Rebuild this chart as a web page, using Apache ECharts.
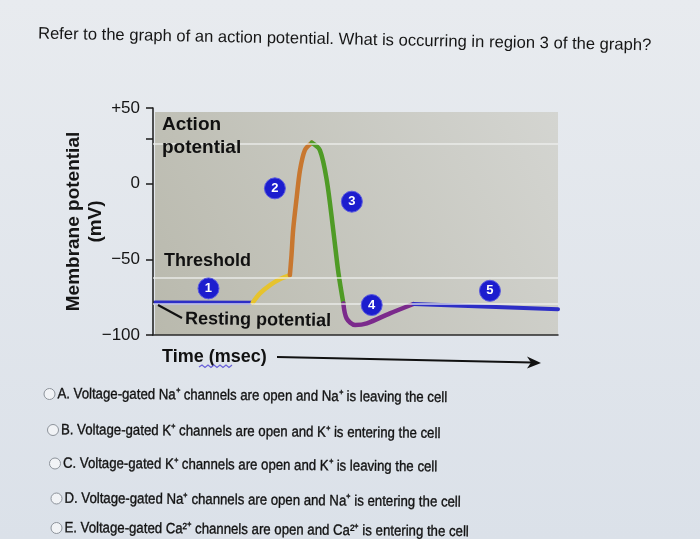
<!DOCTYPE html>
<html>
<head>
<meta charset="utf-8">
<script src="https://cdn.jsdelivr.net/npm/echarts@6/dist/echarts.min.js"></script>
<style>
html,body{margin:0;padding:0;background:#e3e7ed;}
#chart{width:700px;height:539px;}
</style>
</head>
<body>
<div id="chart"></div>
<script>
// ---------- text content ----------
const questionText = "Refer to the graph of an action potential. What is occurring in region 3 of the graph?";
const answerOptions = [
  "A. Voltage-gated Na\u207A channels are open and Na\u207A is leaving the cell",
  "B. Voltage-gated K\u207A channels are open and K\u207A is entering the cell",
  "C. Voltage-gated K\u207A channels are open and K\u207A is leaving the cell",
  "D. Voltage-gated Na\u207A channels are open and Na\u207A is entering the cell",
  "E. Voltage-gated Ca\u00B2\u207A channels are open and Ca\u00B2\u207A is entering the cell"
];
const yAxisTitle = "Membrane potential\n(mV)";
const xAxisTitle = "Time (msec)";

// ---------- axis ticks (mV) ----------
const yTickValues = [-100, -50, 0, 30, 50];
const yLabelValues = [-100, -50, 0, 50];

// ---------- trace segments [time (a.u.), mV] ----------
const restingStart = [[0.5, -78.5], [24.6, -78.7]];
const depolToThreshold = [[24.6, -78.7], [26.4, -72.5], [28.9, -67.0], [31.4, -63.0], [33.8, -60.4]];
const risingPhase = [[33.8, -60.4], [34.2, -47.2], [34.6, -30.6], [35.5, -8.6], [36.3, 9.0], [37.5, 22.2], [39.2, 27.1]];
const fallingPhase = [[39.2, 27.1], [41.2, 22.2], [42.9, 2.4], [44.5, -30.6], [45.8, -59.3], [47.0, -79.1]];
const hyperpolarization = [[47.0, -79.1], [47.8, -89.0], [49.9, -93.4], [52.8, -92.3], [58.5, -85.7], [64.3, -79.5]];
const restingEnd = [[64.3, -79.5], [100, -83]];

// ---------- numbered region markers [time, mV, label] ----------
const regionLabels = [[13.7, -69.2, '1'], [30.1, -3.1, '2'], [49.1, -11.9, '3'], [54.0, -80.2, '4'], [83.2, -70.8, '5']];

// ---------- reference levels (mV) and plot panel extent ----------
const referenceLevels = [26.5, -62, -79.5];
const panelTime = [0.5, 100];
const panelVolt = [-100, 47.4];

const FONT = '"Liberation Sans", Arial, Helvetica, sans-serif';
const chart = echarts.init(document.getElementById('chart'));

function seg(name, data, color, width) {
  return {
    name: name, type: 'line', data: data, smooth: 0.3, showSymbol: false, symbol: 'none',
    z: 3, silent: true,
    lineStyle: { color: color, width: width, cap: 'round', join: 'round' }
  };
}

const graphics = [];
// question
graphics.push({
  type: 'text', x: 38, y: 34, rotation: -0.019, z: 10,
  style: { text: questionText, font: '16.6px ' + FONT, fill: '#151515', textVerticalAlign: 'middle' }
});
// answers
const radioX = [49.5, 53, 55, 56.5, 56.5];
const ansX = [57.5, 61, 63, 64.5, 64.5];
const ansY = [394, 430, 463.5, 498.5, 528];
answerOptions.forEach(function (t, i) {
  graphics.push({
    type: 'circle', shape: { cx: radioX[i], cy: ansY[i], r: 5.5 }, z: 10,
    style: { fill: '#f1f3f6', stroke: '#8d939b', lineWidth: 1 }
  });
  graphics.push({
    type: 'text', x: ansX[i], y: ansY[i], rotation: -0.01, scaleX: 0.88, z: 10,
    style: { text: t, font: '15px ' + FONT, fill: '#111', stroke: '#111', lineWidth: 0.35, textVerticalAlign: 'middle' }
  });
});
// in-chart annotations
graphics.push({
  type: 'text', x: 162, y: 136.5, z: 10,
  style: { text: 'Action\npotential', font: 'bold 19px ' + FONT, lineHeight: 23, fill: '#111', textVerticalAlign: 'middle' }
});
graphics.push({
  type: 'text', x: 164, y: 261, z: 10,
  style: { text: 'Threshold', font: 'bold 18px ' + FONT, fill: '#111', textVerticalAlign: 'middle' }
});
graphics.push({
  type: 'text', x: 185, y: 319, rotation: -0.015, z: 10,
  style: { text: 'Resting potential', font: 'bold 18px ' + FONT, fill: '#111', textVerticalAlign: 'middle' }
});
graphics.push({
  type: 'line', shape: { x1: 158, y1: 305, x2: 182, y2: 318 }, z: 10,
  style: { stroke: '#111', lineWidth: 2 }
});
// time label and arrow
graphics.push({
  type: 'text', x: 162, y: 357, z: 10,
  style: { text: xAxisTitle, font: 'bold 18px ' + FONT, fill: '#111', textVerticalAlign: 'middle' }
});
graphics.push({
  type: 'polyline', z: 10,
  shape: { points: [[199, 367], [202, 365], [205, 367.5], [208, 365], [211, 367.5], [214, 365], [217, 367.5], [220, 365], [223, 367.5], [226, 365], [229, 367.5], [232, 365]] },
  style: { stroke: '#6a62d8', lineWidth: 1.2, fill: null }
});
graphics.push({
  type: 'line', shape: { x1: 277, y1: 357, x2: 532, y2: 362.5 }, z: 10,
  style: { stroke: '#111', lineWidth: 2 }
});
graphics.push({
  type: 'polygon', shape: { points: [[527, 356.5], [541, 363], [527, 368.5], [531, 362.5]] }, z: 10,
  style: { fill: '#111' }
});

const option = {
  animation: false,
  backgroundColor: new echarts.graphic.LinearGradient(0, 0, 0, 1, [
    { offset: 0, color: '#e8ebef' }, { offset: 1, color: '#dbe1e9' }
  ]),
  grid: { left: 153, right: 142, top: 108, bottom: 204 },
  xAxis: {
    type: 'value', min: 0, max: 100, z: 4,
    axisLine: { show: true, onZero: false, lineStyle: { color: '#2a2a2a', width: 1.5 } },
    axisTick: { show: false }, axisLabel: { show: false }, splitLine: { show: false }
  },
  yAxis: {
    type: 'value', min: -100, max: 50, interval: 50, z: 4,
    name: yAxisTitle, nameLocation: 'middle', nameGap: 46, nameRotate: 90, nameMoveOverlap: false,
    nameTextStyle: { fontFamily: FONT, fontSize: 19, fontWeight: 'bold', color: '#151515', lineHeight: 22 },
    axisLine: { show: true, onZero: false, lineStyle: { color: '#1a1a1a', width: 1.5 } },
    axisTick: { show: true, inside: false, length: 7, customValues: yTickValues, lineStyle: { color: '#1a1a1a', width: 1.5 } },
    axisLabel: {
      show: true, margin: 13, customValues: yLabelValues,
      fontFamily: FONT, fontSize: 17, color: '#151515',
      formatter: function (v) { return v > 0 ? '+' + v : (v < 0 ? '\u2212' + Math.abs(v) : '0'); }
    },
    splitLine: { show: false }
  },
  graphic: { elements: graphics },
  series: [
    {
      name: 'panel', type: 'scatter', data: [], z: 1, silent: true,
      markArea: {
        silent: true,
        itemStyle: {
          color: new echarts.graphic.LinearGradient(0, 1, 1, 0, [
            { offset: 0, color: '#b9b9ad' }, { offset: 1, color: '#d4d5d1' }
          ])
        },
        data: [[{ coord: [panelTime[0], panelVolt[0]] }, { coord: [panelTime[1], panelVolt[1]] }]]
      },
      markLine: {
        silent: true, symbol: ['none', 'none'], label: { show: false },
        lineStyle: { color: '#eef0ee', width: 1.5, type: 'solid', opacity: 0.85 },
        data: referenceLevels.map(function (v) { return { yAxis: v }; })
      }
    },
    seg('Resting (1)', restingStart, '#2d2ec6', 4),
    seg('Depolarization to threshold', depolToThreshold, '#e6c32e', 4.5),
    seg('Rising phase (2)', risingPhase, '#c8772f', 4.5),
    seg('Falling phase (3)', fallingPhase, '#4f9b25', 4.5),
    seg('Hyperpolarization (4)', hyperpolarization, '#7b2a8c', 4.5),
    seg('Resting (5)', restingEnd, '#2d2ec6', 4),
    {
      name: 'regions', type: 'scatter', data: regionLabels, z: 5, silent: true,
      symbolSize: 21,
      itemStyle: { color: '#1c1dce', opacity: 1, borderColor: '#5a5ae0', borderWidth: 1 },
      label: {
        show: true, position: 'inside', color: '#ffffff', fontFamily: FONT, fontWeight: 'bold', fontSize: 13,
        formatter: function (p) { return p.data[2]; }
      }
    }
  ]
};
chart.setOption(option);
</script>
</body>
</html>
